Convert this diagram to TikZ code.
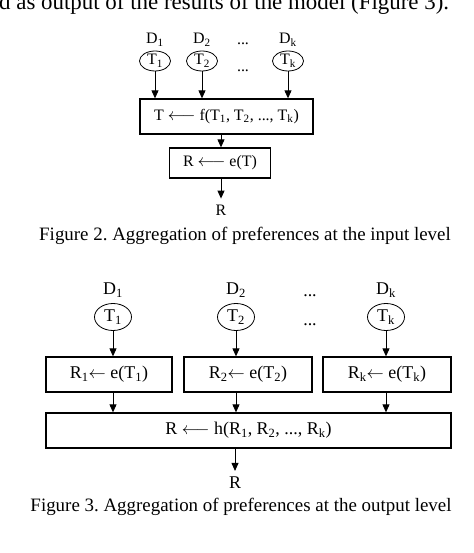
\documentclass[tikz,border=0pt]{standalone}
\usepackage{fontspec}
\setmainfont{Liberation Serif}
\frenchspacing
\usetikzlibrary{positioning}
\usetikzlibrary{arrows.meta,shapes.geometric}
\tikzstyle{inputtext}=[font=\fontsize{16}{19}\selectfont,inner sep=1pt]
\tikzstyle{outputtext}=[font=\fontsize{18}{21}\selectfont,inner sep=1pt]
\tikzstyle{inputpref}=[ellipse,draw,line width=0.8bp,inner sep=0pt,minimum width=31bp,minimum height=20bp,font=\fontsize{16}{19}\selectfont]
\tikzstyle{outputpref}=[ellipse,draw,line width=0.8bp,inner sep=0pt,minimum width=37bp,minimum height=27bp,font=\fontsize{18}{21}\selectfont]
\tikzstyle{rulebox}=[rectangle,draw,line width=1.3bp,inner sep=0pt]
\tikzstyle{edge} = [draw,line width=0.9bp,-{Triangle[length=8bp,width=7bp]}]
\tikzstyle{caption} = [font=\fontsize{19}{22}\selectfont,inner sep=0pt,anchor=base]

\begin{document}
\begin{tikzpicture}[x=1bp,y=-1bp]
    \useasboundingbox (0,0) rectangle (474,553);
    \clip (0,0) rectangle (474,553);
    % Line of text running on from above
    \node[anchor=base west,font=\fontsize{23}{26}\selectfont,inner sep=0pt] (intro) at (-1,10) {d as output of the results of the model (Figure 3).};

    % Figure 2: first the experts and their preferences
    \foreach \pos/\name/\idx in {{(155,40)/dA1/1}, {(202,40)/dA2/2}, {(288,40)/dAk/k}}
        \node[inputtext] (\name) at \pos {D\textsubscript{\idx}};
    \foreach \pos/\name/\idx in {{(155,61)/pA1/1}, {(202,61)/pA2/2}, {(288,61)/pAk/k}}
        \node[inputpref] (\name) at \pos {T\textsubscript{\idx}};
    \node[inputtext] (dotsA) at (243,44) {...};
    \node[inputtext] (dotsB) at (243,71) {...};

    % Then the aggregation and the evaluation
    \node[rulebox,inputtext,minimum width=173bp,minimum height=35bp] (fagg) at (226.5,116.5)
        {T $\longleftarrow$ f(T\textsubscript{1}, T\textsubscript{2}, ..., T\textsubscript{k})};
    \node[rulebox,inputtext,minimum width=101bp,minimum height=30bp] (evalA) at (220,163)
        {R $\longleftarrow$ e(T)};
    \node[inputtext,inner sep=6bp] (outA) at (221,210) {R};

    % Connect them
    \foreach \name in {pA1, pA2, pAk}
        \path[edge] (\name) -- (\name |- fagg.north);
    \path[edge] (fagg.south -| outA) -- (evalA.north -| outA);
    \path[edge] (evalA.south -| outA) -- (outA);

    \node[caption] (capA) at (245,240) {Figure 2. Aggregation of preferences at the input level};

    % Figure 3: the experts and their preferences
    \foreach \pos/\name/\idx in {{(113,290)/dB1/1}, {(236,290)/dB2/2}, {(386,290)/dBk/k}}
        \node[outputtext] (\name) at \pos {D\textsubscript{\idx}};
    \foreach \pos/\name/\idx in {{(113,317)/pB1/1}, {(236,317)/pB2/2}, {(386,317)/pBk/k}}
        \node[outputpref] (\name) at \pos {T\textsubscript{\idx}};
    \node[outputtext] (dotsC) at (310,296) {...};
    \node[outputtext] (dotsD) at (310,325) {...};

    % One evaluation per expert, then the aggregation
    \foreach \pos/\name/\idx/\boxw in {{(109,374.5)/eB1/1/126bp}, {(248,374.5)/eB2/2/128bp}, {(387,374.5)/eBk/k/128bp}}
        \node[rulebox,outputtext,minimum width=\boxw,minimum height=35bp] (\name) at \pos
            {R\textsubscript{\idx}$\leftarrow$ e(T\textsubscript{\idx})};
    \node[rulebox,outputtext,minimum width=405bp,minimum height=35bp] (hagg) at (248.5,430.5)
        {R $\longleftarrow$ h(R\textsubscript{1}, R\textsubscript{2}, ..., R\textsubscript{k})};
    \node[outputtext,inner sep=6bp] (outB) at (235,483) {R};

    % Connect them
    \foreach \idx in {1, 2, k} {
        \path[edge] (pB\idx) -- (pB\idx |- eB\idx.north);
        \path[edge] (pB\idx |- eB\idx.south) -- (pB\idx |- hagg.north);
    }
    \path[edge] (hagg.south -| outB) -- (outB);

    \node[caption] (capB) at (241,511) {Figure 3. Aggregation of preferences at the output level};
\end{tikzpicture}
\end{document}
